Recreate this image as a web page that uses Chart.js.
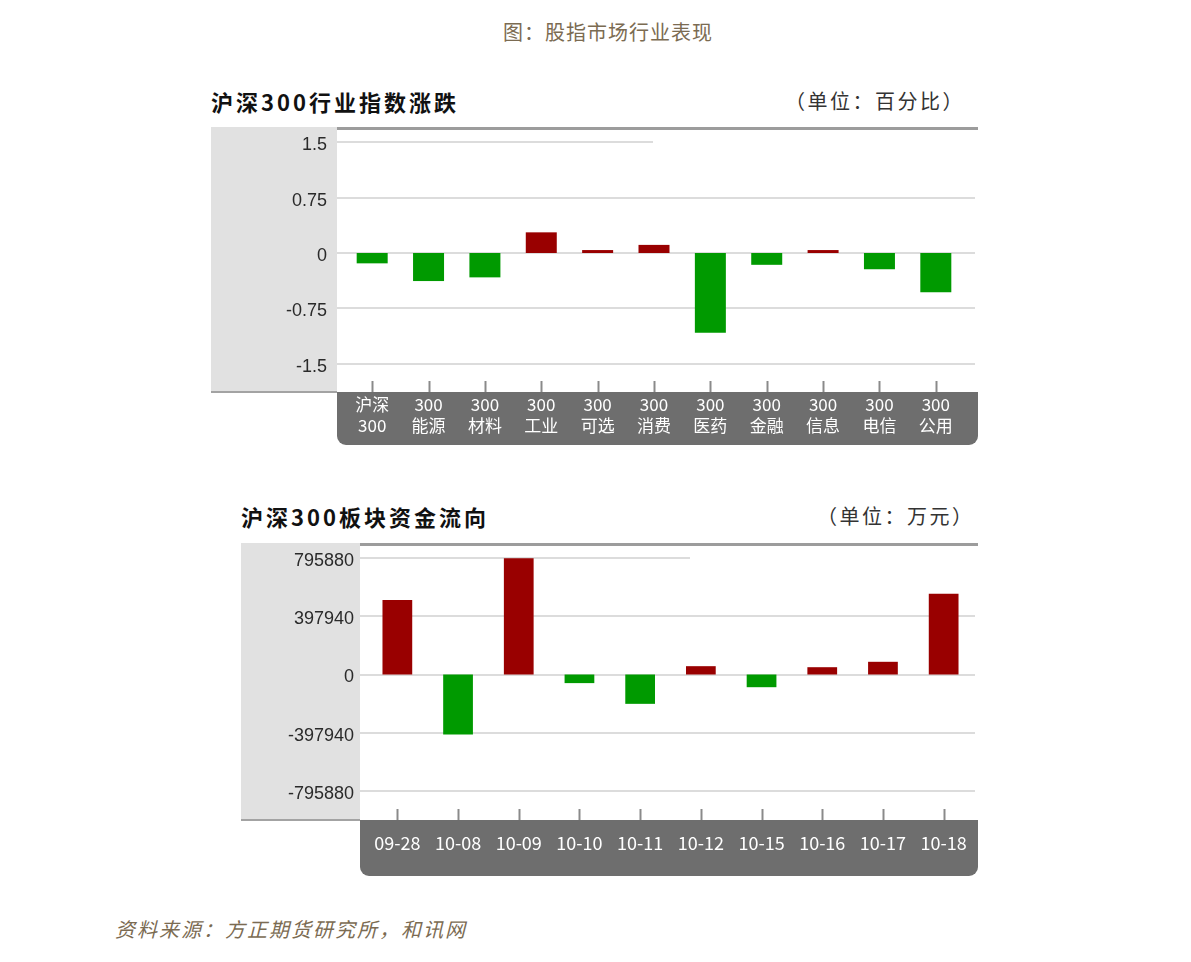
<!DOCTYPE html>
<html>
<head>
<meta charset="utf-8">
<script src="https://cdn.jsdelivr.net/npm/chart.js@4.4.1/dist/chart.umd.min.js"></script>
<style>
  body { margin: 0; background: #fff; width: 1191px; height: 962px; position: relative; overflow: hidden;
         font-family: "Noto Sans CJK SC", sans-serif; }
  .txt { position: absolute; white-space: nowrap; line-height: 1; }
  canvas { position: absolute; }
</style>
</head>
<body>
<div class="txt" style="left:503px; top:22px; font-size:20px; letter-spacing:1px; color:#7b6b52;">图：股指市场行业表现</div>

<div class="txt" style="left:211px; top:90px; font-size:22px; font-weight:bold; letter-spacing:3px; color:#111;">沪深300行业指数涨跌</div>
<div class="txt" style="left:785px; top:91px; font-size:20px; letter-spacing:2.5px; color:#333;">（单位：百分比）</div>
<canvas id="sectorChart" width="769" height="321" style="left:211px; top:126px;"></canvas>

<div class="txt" style="left:241px; top:505px; font-size:22px; font-weight:bold; letter-spacing:3px; color:#111;">沪深300板块资金流向</div>
<div class="txt" style="left:817px; top:506px; font-size:20px; letter-spacing:2.5px; color:#333;">（单位：万元）</div>
<canvas id="flowChart" width="739" height="336" style="left:241px; top:542px;"></canvas>

<div class="txt" style="left:115px; top:919px; font-size:20px; letter-spacing:2px; font-style:italic; color:#7b6b52;">资料来源：方正期货研究所，和讯网</div>

<script>
// chart 1: 沪深300行业指数涨跌 (%)
const sectorLabels = [
  ["沪深", "300"], ["300", "能源"], ["300", "材料"], ["300", "工业"], ["300", "可选"], ["300", "消费"],
  ["300", "医药"], ["300", "金融"], ["300", "信息"], ["300", "电信"], ["300", "公用"]
];
const sectorChange = [-0.14, -0.38, -0.33, 0.28, 0.04, 0.11, -1.08, -0.16, 0.04, -0.22, -0.53];
const sectorTicks = [-1.5, -0.75, 0, 0.75, 1.5];

// chart 2: 沪深300板块资金流向 (万元)
const flowDates = ["09-28", "10-08", "10-09", "10-10", "10-11", "10-12", "10-15", "10-16", "10-17", "10-18"];
const flowValues = [510000, -411000, 795880, -59000, -201000, 57000, -87000, 50000, 87000, 553000];
const flowTicks = [-795880, -397940, 0, 397940, 795880];

const RED = "#990000";
const GREEN = "#009a00";

// grey y panel, dark x panel, grid lines and tick marks (under the axes labels)
const panelPlugin = {
  id: "panels",
  beforeDraw(chart, args, opts) {
    const ctx = chart.ctx;
    const a = chart.chartArea;
    const xs = chart.scales.x;
    const ys = chart.scales.y;
    const edge = opts.edge;
    const W = chart.width;
    ctx.save();
    ctx.fillStyle = "#e1e1e1";
    ctx.fillRect(0, 1, edge, a.bottom - 1);
    ctx.fillStyle = "#a3a3a3";
    ctx.fillRect(0, a.bottom - 1, edge, 2);
    ctx.fillStyle = "#9c9c9c";
    ctx.fillRect(edge, 1, W - 2 - edge, 3);
    ctx.fillStyle = "#6e6e6e";
    ctx.beginPath();
    ctx.roundRect(edge, a.bottom, W - 2 - edge, xs.bottom - a.bottom, [0, 0, 9, 9]);
    ctx.fill();
    ctx.strokeStyle = "#dcdcdc";
    ctx.lineWidth = 2;
    const top = Math.max(...opts.ticks);
    opts.ticks.forEach(v => {
      const y = Math.round(ys.getPixelForValue(v));
      ctx.beginPath();
      ctx.moveTo(edge, y);
      ctx.lineTo(v === top ? edge + opts.topLen : W - 5, y);
      ctx.stroke();
    });
    ctx.strokeStyle = "#8a8a8a";
    for (let i = 0; i < xs.ticks.length; i++) {
      const x = Math.round(xs.getPixelForTick(i)) + 0.5;
      ctx.beginPath();
      ctx.moveTo(x, a.bottom - 11);
      ctx.lineTo(x, a.bottom);
      ctx.stroke();
    }
    ctx.restore();
  }
};

function makeChart(id, labels, values, ticks, cfg) {
  return new Chart(document.getElementById(id), {
    type: "bar",
    data: {
      labels: labels,
      datasets: [{
        data: values,
        backgroundColor: values.map(v => v >= 0 ? RED : GREEN),
        borderWidth: 0,
        barPercentage: cfg.barPct,
        categoryPercentage: 1
      }]
    },
    options: {
      responsive: false,
      animation: false,
      layout: { padding: cfg.padding },
      plugins: {
        legend: { display: false },
        tooltip: { enabled: false },
        panels: { edge: cfg.edge, ticks: ticks, topLen: cfg.topLen }
      },
      scales: {
        x: {
          offset: true,
          grid: { display: false, drawTicks: false },
          border: { display: false },
          ticks: {
            color: "#ffffff",
            font: { family: "Noto Sans CJK SC", size: cfg.xFont, lineHeight: 1.25 },
            padding: cfg.xPad,
            maxRotation: 0,
            autoSkip: false
          },
          afterFit: s => { s.height = cfg.xHeight; s.paddingLeft = 0; s.paddingRight = 0; }
        },
        y: {
          min: cfg.min,
          max: cfg.max,
          grid: { display: false, drawTicks: false },
          border: { display: false },
          afterBuildTicks: s => { s.ticks = ticks.map(v => ({ value: v })); },
          afterFit: s => { s.width = cfg.yWidth; s.paddingTop = 0; s.paddingBottom = 0; },
          ticks: {
            color: "#2a2a2a",
            font: { family: "Liberation Sans", size: 18 },
            padding: cfg.yPad,
            labelOffset: 3,
            callback: v => String(v)
          }
        }
      }
    },
    plugins: [panelPlugin]
  });
}

makeChart("sectorChart", sectorLabels, sectorChange, sectorTicks, {
  padding: { top: 3, right: 16, bottom: 2, left: 0 },
  min: -1.883, max: 1.68,
  yWidth: 133, yPad: 17, edge: 126, topLen: 316,
  xHeight: 53, xPad: 2, xFont: 17, barPct: 0.55
});

makeChart("flowChart", flowDates, flowValues, flowTicks, {
  padding: { top: 4, right: 6, bottom: 2, left: 0 },
  min: -996560, max: 880125,
  yWidth: 126, yPad: 13, edge: 119, topLen: 330,
  xHeight: 56, xPad: 12, xFont: 18, barPct: 0.49
});
</script>
</body>
</html>
